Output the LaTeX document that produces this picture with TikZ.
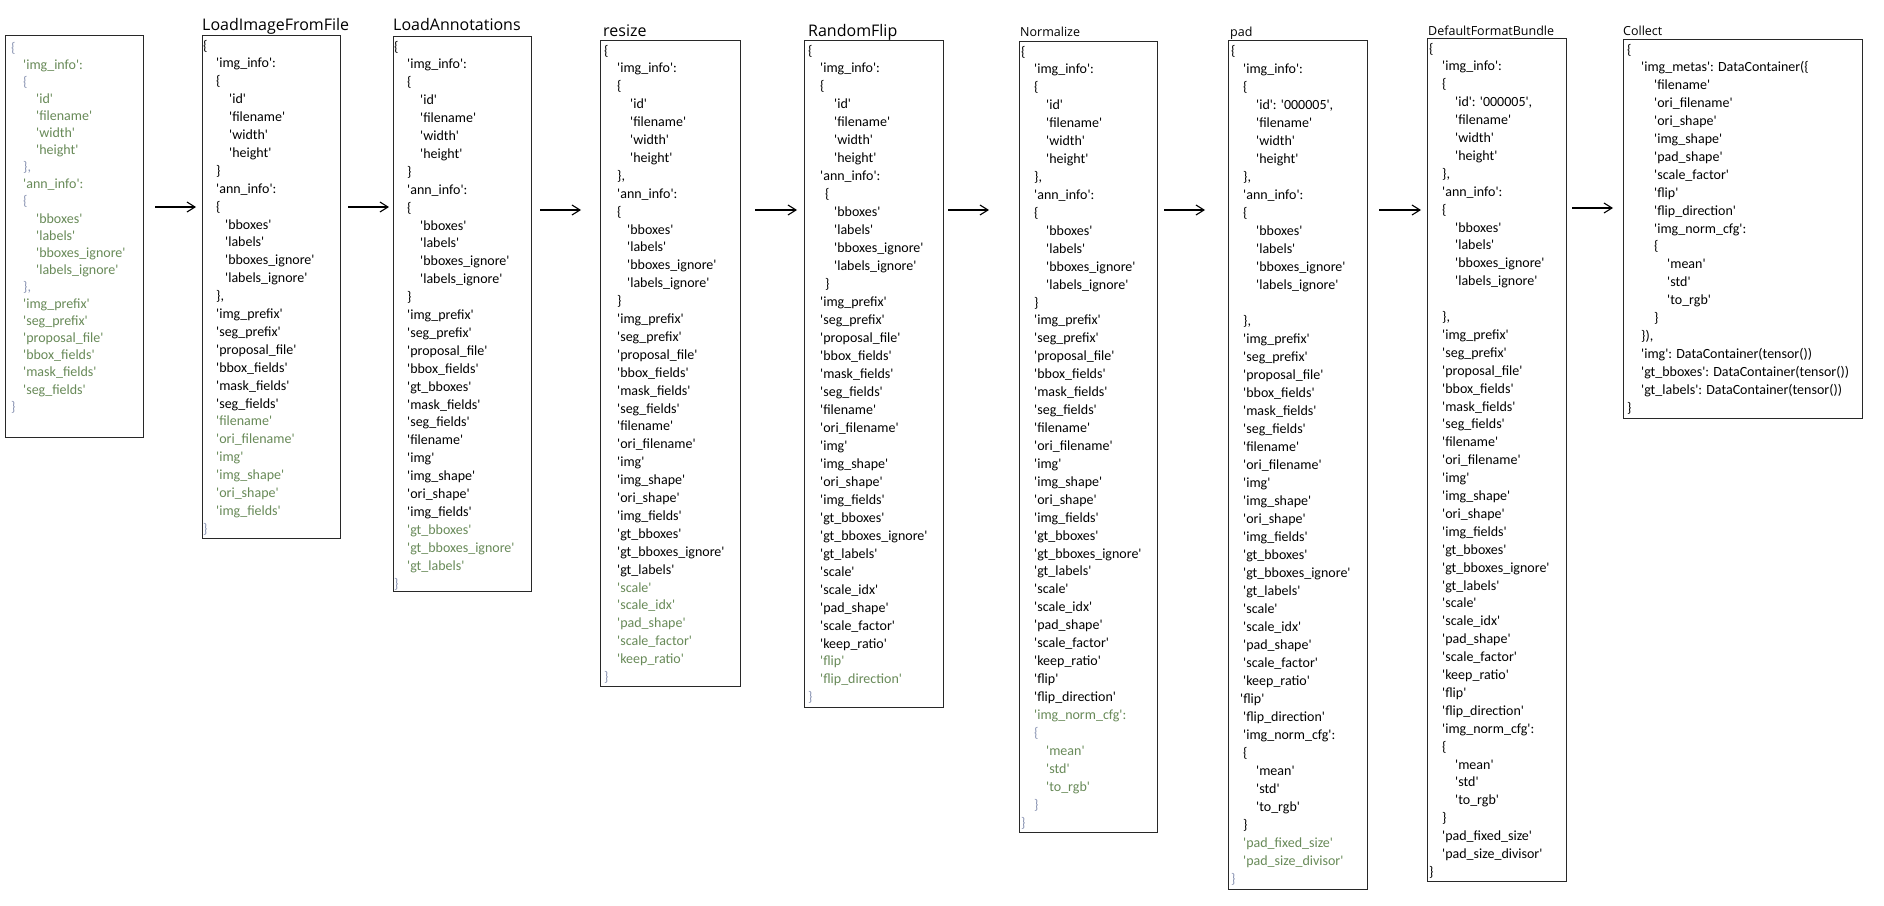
\documentclass[tikz,border=0pt]{standalone}
\usepackage{fontspec}
\setmainfont{Carlito}[Ligatures=TeXOff]
\newfontfamily\cf{Carlito}[Ligatures=TeXOff]
\newfontfamily\tf{Open Sans}
\usetikzlibrary{arrows.meta}
\definecolor{g}{RGB}{104,138,88}
\definecolor{y}{RGB}{140,150,180}
\definecolor{k}{RGB}{0,0,0}
\definecolor{bx}{RGB}{40,40,40}
\catcode`\_=12
\newcounter{lc}
\newcommand\startbox[4]{\def\curx{#1}\def\cury{#2}\def\cursp{#3}\def\curid{#4}\setcounter{lc}{0}}
\newcommand\li[3]{\node[txt,text=#2] (\curid-\the\value{lc}) at ({\curx+#1},{\cury+\the\value{lc}*\cursp}) {#3};\stepcounter{lc}}
\tikzset{
  txt/.style={anchor=base west,inner sep=0pt,font=\cf\fontsize{14}{16}\selectfont},
  boxst/.style={draw=bx,line width=1.3pt,anchor=north west,inner sep=0pt},
  ttl/.style={anchor=base west,inner sep=0pt,font=\tf\fontsize{#1}{#1}\selectfont},
  arr/.style={-{Straight Barb[length=8pt,width=10pt]},line width=1.1pt}
}
\begin{document}
\begin{tikzpicture}[x=1pt,y=-1pt]
\useasboundingbox[fill=white] (0,0) rectangle (1884,905);
% boxes
\node[boxst,minimum width=138pt,minimum height=402pt] (b0) at (5,35) {};
\node[boxst,minimum width=138pt,minimum height=503pt] (b1) at (202,35) {};
\node[boxst,minimum width=138pt,minimum height=555pt] (b2) at (393,36) {};
\node[boxst,minimum width=140pt,minimum height=646pt] (b3) at (600,40) {};
\node[boxst,minimum width=139pt,minimum height=667pt] (b4) at (804,40) {};
\node[boxst,minimum width=138pt,minimum height=791pt] (b5) at (1019,41) {};
\node[boxst,minimum width=139pt,minimum height=849pt] (b6) at (1228,40) {};
\node[boxst,minimum width=139pt,minimum height=843pt] (b7) at (1427,38) {};
\node[boxst,minimum width=239pt,minimum height=379pt] (b8) at (1623,39) {};
% titles
\node[ttl=16] (t1) at (202,30) {LoadImageFromFile};
\node[ttl=16] (t2) at (393,30) {LoadAnnotations};
\node[ttl=16] (t3) at (603,36) {resize};
\node[ttl=16] (t4) at (808,36) {RandomFlip};
\node[ttl=12.5] (t5) at (1020,36) {Normalize};
\node[ttl=12.5] (t6) at (1230,36) {pad};
\node[ttl=12.5] (t7) at (1428,35) {DefaultFormatBundle};
\node[ttl=12.5] (t8) at (1623,35) {Collect};
% arrows
\coordinate (ya) at (0,207);
\coordinate (yb) at (0,210);
\coordinate (yc) at (0,208);
\draw[arr,shorten <=11pt,shorten >=6pt] (b0.east|-ya) -- (b1.west|-ya);
\draw[arr,shorten <=7pt,shorten >=4pt] (b1.east|-ya) -- (b2.west|-ya);
\draw[arr,shorten <=8pt,shorten >=19pt] (b2.east|-yb) -- (b3.west|-yb);
\draw[arr,shorten <=14pt,shorten >=7pt] (b3.east|-yb) -- (b4.west|-yb);
\draw[arr,shorten <=4pt,shorten >=30pt] (b4.east|-yb) -- (b5.west|-yb);
\draw[arr,shorten <=6pt,shorten >=23pt] (b5.east|-yb) -- (b6.west|-yb);
\draw[arr,shorten <=11pt,shorten >=6pt] (b6.east|-yb) -- (b7.west|-yb);
\draw[arr,shorten <=5pt,shorten >=10pt] (b7.east|-yc) -- (b8.west|-yc);
% box 0
\startbox{5}{52}{17.1}{c0}
\li{6}{y}{\{}
\li{18}{g}{'img_info':}
\li{18}{y}{\{}
\li{31}{g}{'id'}
\li{31}{g}{'filename'}
\li{31}{g}{'width'}
\li{31}{g}{'height'}
\li{18}{y}{\},}
\li{18}{g}{'ann_info':}
\li{18}{y}{\{}
\li{31}{g}{'bboxes'}
\li{31}{g}{'labels'}
\li{31}{g}{'bboxes_ignore'}
\li{31}{g}{'labels_ignore'}
\li{18}{y}{\},}
\li{18}{g}{'img_prefix'}
\li{18}{g}{'seg_prefix'}
\li{18}{g}{'proposal_file'}
\li{18}{g}{'bbox_fields'}
\li{18}{g}{'mask_fields'}
\li{18}{g}{'seg_fields'}
\li{6}{y}{\}}
% box 1
\startbox{202}{50}{17.9}{c1}
\li{1}{k}{\{}
\li{14}{k}{'img_info':}
\li{14}{k}{\{}
\li{27}{k}{'id'}
\li{27}{k}{'filename'}
\li{27}{k}{'width'}
\li{27}{k}{'height'}
\li{14}{k}{\}}
\li{14}{k}{'ann_info':}
\li{14}{k}{\{}
\li{23}{k}{'bboxes'}
\li{23}{k}{'labels'}
\li{23}{k}{'bboxes_ignore'}
\li{23}{k}{'labels_ignore'}
\li{14}{k}{\},}
\li{14}{k}{'img_prefix'}
\li{14}{k}{'seg_prefix'}
\li{14}{k}{'proposal_file'}
\li{14}{k}{'bbox_fields'}
\li{14}{k}{'mask_fields'}
\li{14}{k}{'seg_fields'}
\li{14}{g}{'filename'}
\li{14}{g}{'ori_filename'}
\li{14}{g}{'img'}
\li{14}{g}{'img_shape'}
\li{14}{g}{'ori_shape'}
\li{14}{g}{'img_fields'}
\li{1}{y}{\}}
% box 2
\startbox{393}{51}{17.9}{c2}
\li{1}{k}{\{}
\li{14}{k}{'img_info':}
\li{14}{k}{\{}
\li{27}{k}{'id'}
\li{27}{k}{'filename'}
\li{27}{k}{'width'}
\li{27}{k}{'height'}
\li{14}{k}{\}}
\li{14}{k}{'ann_info':}
\li{14}{k}{\{}
\li{27}{k}{'bboxes'}
\li{27}{k}{'labels'}
\li{27}{k}{'bboxes_ignore'}
\li{27}{k}{'labels_ignore'}
\li{14}{k}{\}}
\li{14}{k}{'img_prefix'}
\li{14}{k}{'seg_prefix'}
\li{14}{k}{'proposal_file'}
\li{14}{k}{'bbox_fields'}
\li{14}{k}{'gt_bboxes'}
\li{14}{k}{'mask_fields'}
\li{14}{k}{'seg_fields'}
\li{14}{k}{'filename'}
\li{14}{k}{'img'}
\li{14}{k}{'img_shape'}
\li{14}{k}{'ori_shape'}
\li{14}{k}{'img_fields'}
\li{14}{g}{'gt_bboxes'}
\li{14}{g}{'gt_bboxes_ignore'}
\li{14}{g}{'gt_labels'}
\li{1}{y}{\}}
% box 3
\startbox{600}{55}{17.9}{c3}
\li{4}{k}{\{}
\li{17}{k}{'img_info':}
\li{17}{k}{\{}
\li{30}{k}{'id'}
\li{30}{k}{'filename'}
\li{30}{k}{'width'}
\li{30}{k}{'height'}
\li{17}{k}{\},}
\li{17}{k}{'ann_info':}
\li{17}{k}{\{}
\li{27}{k}{'bboxes'}
\li{27}{k}{'labels'}
\li{27}{k}{'bboxes_ignore'}
\li{27}{k}{'labels_ignore'}
\li{17}{k}{\}}
\li{17}{k}{'img_prefix'}
\li{17}{k}{'seg_prefix'}
\li{17}{k}{'proposal_file'}
\li{17}{k}{'bbox_fields'}
\li{17}{k}{'mask_fields'}
\li{17}{k}{'seg_fields'}
\li{17}{k}{'filename'}
\li{17}{k}{'ori_filename'}
\li{17}{k}{'img'}
\li{17}{k}{'img_shape'}
\li{17}{k}{'ori_shape'}
\li{17}{k}{'img_fields'}
\li{17}{k}{'gt_bboxes'}
\li{17}{k}{'gt_bboxes_ignore'}
\li{17}{k}{'gt_labels'}
\li{17}{g}{'scale'}
\li{17}{g}{'scale_idx'}
\li{17}{g}{'pad_shape'}
\li{17}{g}{'scale_factor'}
\li{17}{g}{'keep_ratio'}
\li{4}{y}{\}}
% box 4
\startbox{804}{55}{17.97}{c4}
\li{4}{k}{\{}
\li{16}{k}{'img_info':}
\li{16}{k}{\{}
\li{30}{k}{'id'}
\li{30}{k}{'filename'}
\li{30}{k}{'width'}
\li{30}{k}{'height'}
\li{16}{k}{'ann_info':}
\li{21}{k}{\{}
\li{30}{k}{'bboxes'}
\li{30}{k}{'labels'}
\li{30}{k}{'bboxes_ignore'}
\li{30}{k}{'labels_ignore'}
\li{21}{k}{\}}
\li{16}{k}{'img_prefix'}
\li{16}{k}{'seg_prefix'}
\li{16}{k}{'proposal_file'}
\li{16}{k}{'bbox_fields'}
\li{16}{k}{'mask_fields'}
\li{16}{k}{'seg_fields'}
\li{16}{k}{'filename'}
\li{16}{k}{'ori_filename'}
\li{16}{k}{'img'}
\li{16}{k}{'img_shape'}
\li{16}{k}{'ori_shape'}
\li{16}{k}{'img_fields'}
\li{16}{k}{'gt_bboxes'}
\li{16}{k}{'gt_bboxes_ignore'}
\li{16}{k}{'gt_labels'}
\li{16}{k}{'scale'}
\li{16}{k}{'scale_idx'}
\li{16}{k}{'pad_shape'}
\li{16}{k}{'scale_factor'}
\li{16}{k}{'keep_ratio'}
\li{16}{g}{'flip'}
\li{16}{g}{'flip_direction'}
\li{4}{y}{\}}
% box 5
\startbox{1019}{56}{17.93}{c5}
\li{2}{k}{\{}
\li{15}{k}{'img_info':}
\li{15}{k}{\{}
\li{27}{k}{'id'}
\li{27}{k}{'filename'}
\li{27}{k}{'width'}
\li{27}{k}{'height'}
\li{15}{k}{\},}
\li{15}{k}{'ann_info':}
\li{15}{k}{\{}
\li{27}{k}{'bboxes'}
\li{27}{k}{'labels'}
\li{27}{k}{'bboxes_ignore'}
\li{27}{k}{'labels_ignore'}
\li{15}{k}{\}}
\li{15}{k}{'img_prefix'}
\li{15}{k}{'seg_prefix'}
\li{15}{k}{'proposal_file'}
\li{15}{k}{'bbox_fields'}
\li{15}{k}{'mask_fields'}
\li{15}{k}{'seg_fields'}
\li{15}{k}{'filename'}
\li{15}{k}{'ori_filename'}
\li{15}{k}{'img'}
\li{15}{k}{'img_shape'}
\li{15}{k}{'ori_shape'}
\li{15}{k}{'img_fields'}
\li{15}{k}{'gt_bboxes'}
\li{15}{k}{'gt_bboxes_ignore'}
\li{15}{k}{'gt_labels'}
\li{15}{k}{'scale'}
\li{15}{k}{'scale_idx'}
\li{15}{k}{'pad_shape'}
\li{15}{k}{'scale_factor'}
\li{15}{k}{'keep_ratio'}
\li{15}{k}{'flip'}
\li{15}{k}{'flip_direction'}
\li{15}{g}{'img_norm_cfg':}
\li{15}{y}{\{}
\li{27}{g}{'mean'}
\li{27}{g}{'std'}
\li{27}{g}{'to_rgb'}
\li{15}{y}{\}}
\li{2}{y}{\}}
% box 6
\startbox{1228}{55}{18.0}{c6}
\li{3}{k}{\{}
\li{15}{k}{'img_info':}
\li{15}{k}{\{}
\li{28}{k}{'id': '000005',}
\li{28}{k}{'filename'}
\li{28}{k}{'width'}
\li{28}{k}{'height'}
\li{15}{k}{\},}
\li{15}{k}{'ann_info':}
\li{15}{k}{\{}
\li{28}{k}{'bboxes'}
\li{28}{k}{'labels'}
\li{28}{k}{'bboxes_ignore'}
\li{28}{k}{'labels_ignore'}
\li{28}{k}{}
\li{15}{k}{\},}
\li{15}{k}{'img_prefix'}
\li{15}{k}{'seg_prefix'}
\li{15}{k}{'proposal_file'}
\li{15}{k}{'bbox_fields'}
\li{15}{k}{'mask_fields'}
\li{15}{k}{'seg_fields'}
\li{15}{k}{'filename'}
\li{15}{k}{'ori_filename'}
\li{15}{k}{'img'}
\li{15}{k}{'img_shape'}
\li{15}{k}{'ori_shape'}
\li{15}{k}{'img_fields'}
\li{15}{k}{'gt_bboxes'}
\li{15}{k}{'gt_bboxes_ignore'}
\li{15}{k}{'gt_labels'}
\li{15}{k}{'scale'}
\li{15}{k}{'scale_idx'}
\li{15}{k}{'pad_shape'}
\li{15}{k}{'scale_factor'}
\li{15}{k}{'keep_ratio'}
\li{12}{k}{'flip'}
\li{15}{k}{'flip_direction'}
\li{15}{k}{'img_norm_cfg':}
\li{15}{k}{\{}
\li{28}{k}{'mean'}
\li{28}{k}{'std'}
\li{28}{k}{'to_rgb'}
\li{15}{k}{\}}
\li{15}{g}{'pad_fixed_size'}
\li{15}{g}{'pad_size_divisor'}
\li{3}{y}{\}}
% box 7
\startbox{1427}{53}{17.9}{c7}
\li{2}{k}{\{}
\li{15}{k}{'img_info':}
\li{15}{k}{\{}
\li{28}{k}{'id': '000005',}
\li{28}{k}{'filename'}
\li{28}{k}{'width'}
\li{28}{k}{'height'}
\li{15}{k}{\},}
\li{15}{k}{'ann_info':}
\li{15}{k}{\{}
\li{28}{k}{'bboxes'}
\li{28}{k}{'labels'}
\li{28}{k}{'bboxes_ignore'}
\li{28}{k}{'labels_ignore'}
\li{28}{k}{}
\li{15}{k}{\},}
\li{15}{k}{'img_prefix'}
\li{15}{k}{'seg_prefix'}
\li{15}{k}{'proposal_file'}
\li{15}{k}{'bbox_fields'}
\li{15}{k}{'mask_fields'}
\li{15}{k}{'seg_fields'}
\li{15}{k}{'filename'}
\li{15}{k}{'ori_filename'}
\li{15}{k}{'img'}
\li{15}{k}{'img_shape'}
\li{15}{k}{'ori_shape'}
\li{15}{k}{'img_fields'}
\li{15}{k}{'gt_bboxes'}
\li{15}{k}{'gt_bboxes_ignore'}
\li{15}{k}{'gt_labels'}
\li{15}{k}{'scale'}
\li{15}{k}{'scale_idx'}
\li{15}{k}{'pad_shape'}
\li{15}{k}{'scale_factor'}
\li{15}{k}{'keep_ratio'}
\li{15}{k}{'flip'}
\li{15}{k}{'flip_direction'}
\li{15}{k}{'img_norm_cfg':}
\li{15}{k}{\{}
\li{28}{k}{'mean'}
\li{28}{k}{'std'}
\li{28}{k}{'to_rgb'}
\li{15}{k}{\}}
\li{15}{k}{'pad_fixed_size'}
\li{15}{k}{'pad_size_divisor'}
\li{2}{k}{\}}
% box 8
\startbox{1623}{54}{17.9}{c8}
\li{4}{k}{\{}
\li{18}{k}{'img_metas': DataContainer(\{}
\li{31}{k}{'filename'}
\li{31}{k}{'ori_filename'}
\li{31}{k}{'ori_shape'}
\li{31}{k}{'img_shape'}
\li{31}{k}{'pad_shape'}
\li{31}{k}{'scale_factor'}
\li{31}{k}{'flip'}
\li{31}{k}{'flip_direction'}
\li{31}{k}{'img_norm_cfg':}
\li{31}{k}{\{}
\li{44}{k}{'mean'}
\li{44}{k}{'std'}
\li{44}{k}{'to_rgb'}
\li{31}{k}{\}}
\li{18}{k}{\}),}
\li{18}{k}{'img': DataContainer(tensor())}
\li{18}{k}{'gt_bboxes': DataContainer(tensor())}
\li{18}{k}{'gt_labels': DataContainer(tensor())}
\li{4}{k}{\}}
\end{tikzpicture}
\end{document}
